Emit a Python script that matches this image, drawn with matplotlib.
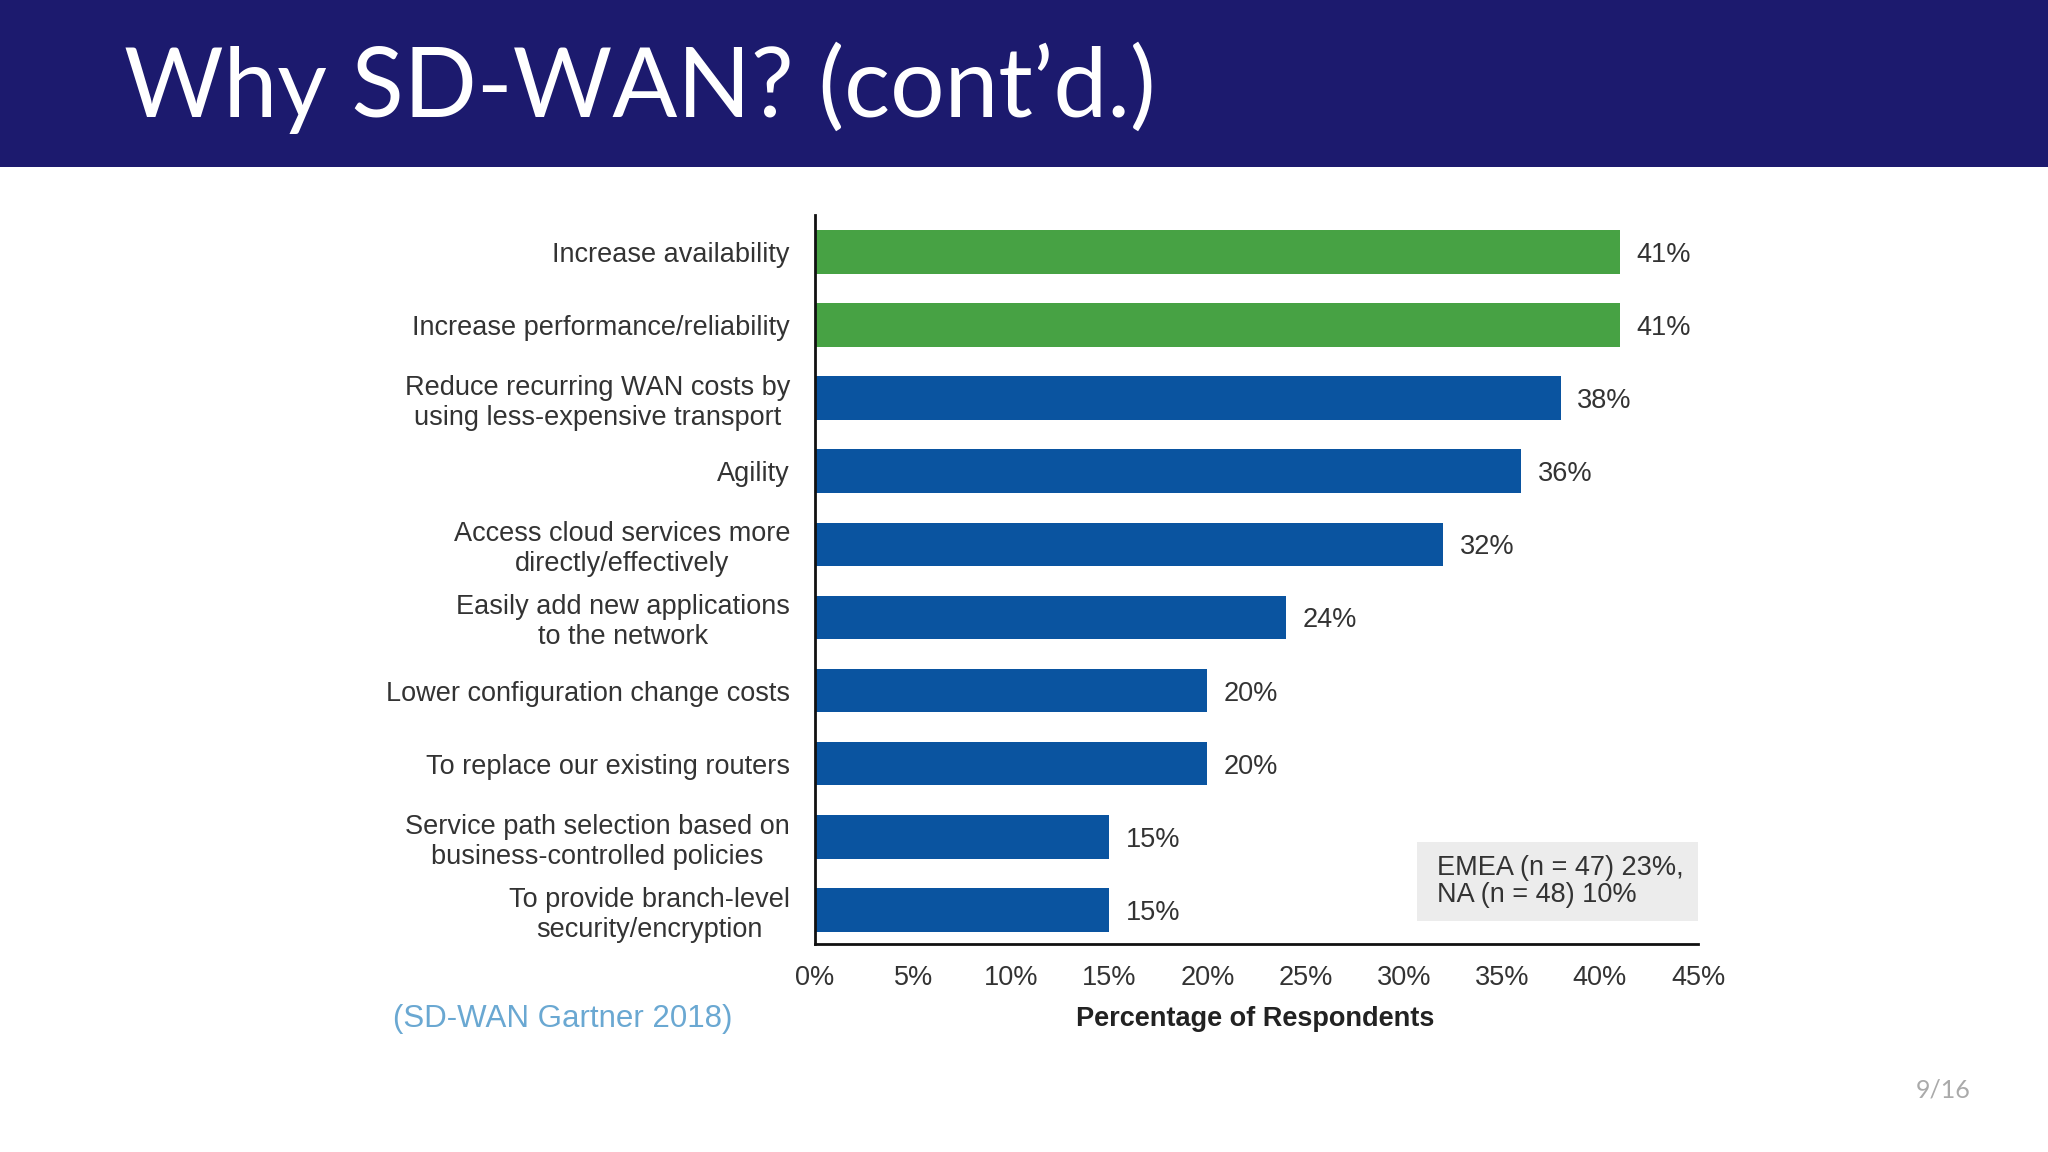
import matplotlib
matplotlib.use("Agg")
import matplotlib.pyplot as plt
from matplotlib.patches import Rectangle

plt.rcParams['font.family'] = ['Liberation Sans', 'DejaVu Sans']

categories = [
    "Increase availability",
    "Increase performance/reliability",
    "Reduce recurring WAN costs by\nusing less-expensive transport",
    "Agility",
    "Access cloud services more\ndirectly/effectively",
    "Easily add new applications\nto the network",
    "Lower configuration change costs",
    "To replace our existing routers",
    "Service path selection based on\nbusiness-controlled policies",
    "To provide branch-level\nsecurity/encryption",
]
values = [41, 41, 38, 36, 32, 24, 20, 20, 15, 15]
highlight = [True, True, False, False, False, False, False, False, False, False]
xticks = [0, 5, 10, 15, 20, 25, 30, 35, 40, 45]
xtick_labels = [f"{t}%" for t in xticks]
title = "Why SD-WAN? (cont\u2019d.)"
xlabel = "Percentage of Respondents"
note = "EMEA (n = 47) 23%,\nNA (n = 48) 10%"
source = "(SD-WAN Gartner 2018)"
page = "9/16"

GREEN = "#47a244"
BLUE = "#0a54a0"
TEXT = "#333333"
FS = 19.5

fig = plt.figure(figsize=(20.48, 11.52), dpi=100)
fig.patch.set_facecolor("white")

# title banner
fig.patches.append(Rectangle((0, 1 - 167 / 1152), 1, 167 / 1152, transform=fig.transFigure,
                             facecolor="#1c1a6e", edgecolor="none", zorder=0))
fig.text(124 / 2048, 1 - 88 / 1152, title, color="white", fontsize=69.3,
         family=['Lato', 'DejaVu Sans'], va="center", ha="left")

ax = fig.add_axes([815 / 2048, 1 - 944 / 1152, 883 / 2048, 729 / 1152])
ypos = list(range(len(categories)))
colors = [GREEN if h else BLUE for h in highlight]
ax.barh(ypos, values, height=0.6, color=colors, edgecolor="none", zorder=2)
ax.set_xlim(0, 45)
ax.set_ylim(len(categories) - 0.53, -0.51)

for y, v in zip(ypos, values):
    ax.text(v + 0.85, y, f"{v}%", va="center_baseline", ha="left", fontsize=FS, color=TEXT)

ax.set_yticks(ypos)
ax.set_yticklabels(categories, fontsize=FS, color=TEXT, multialignment="center", linespacing=1.2)
ax.set_xticks(xticks)
ax.set_xticklabels(xtick_labels, fontsize=FS, color=TEXT)
ax.tick_params(axis="both", length=0)
ax.tick_params(axis="y", pad=18)
ax.tick_params(axis="x", pad=15)
for s in ["top", "right"]:
    ax.spines[s].set_visible(False)
for s in ["left", "bottom"]:
    ax.spines[s].set_color("#111111")
    ax.spines[s].set_linewidth(2)

# note box
ax.add_patch(Rectangle((0.682, 0.032), 0.318, 0.108, transform=ax.transAxes,
                       facecolor="#ececec", edgecolor="none", zorder=1))
ax.text(0.704, 0.086, note, transform=ax.transAxes, fontsize=FS, color=TEXT,
        va="center", ha="left", linespacing=1.08, zorder=3)

fig.text(1255 / 2048, 1 - 1019 / 1152, xlabel, fontsize=FS, fontweight="bold",
         color="#222222", ha="center", va="center")
fig.text(563 / 2048, 1 - 1019 / 1152, source, fontsize=22.5, color="#6aa8d2",
         ha="center", va="center")
fig.text(1943 / 2048, 1 - 1090 / 1152, page, fontsize=18, color="#aaaaaa",
         family=['Lato', 'DejaVu Sans'], ha="center", va="center")

fig.savefig("out.png", dpi=100)
